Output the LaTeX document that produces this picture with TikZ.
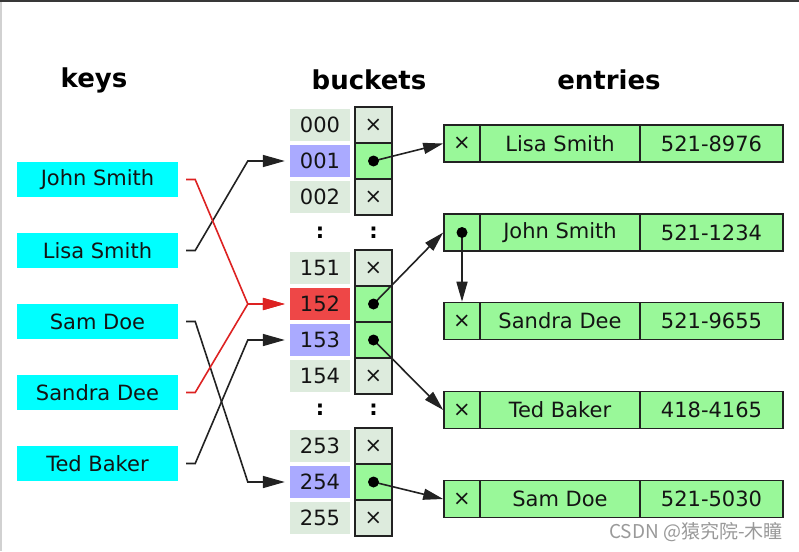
\documentclass[tikz,border=0pt]{standalone}
\usepackage{fontspec}
\setmainfont{DejaVu Sans}
\newfontfamily\cjk{Noto Sans CJK SC}
\usetikzlibrary{arrows.meta}
\definecolor{keycyan}{HTML}{00FFFF}
\definecolor{idxgreen}{HTML}{DDEBDD}
\definecolor{idxblue}{HTML}{AAAAFF}
\definecolor{idxred}{HTML}{EE4747}
\definecolor{livegreen}{HTML}{99F899}
\definecolor{edgegray}{HTML}{222222}
\definecolor{redline}{HTML}{DD2222}
\definecolor{wmgray}{HTML}{999999}
\begin{document}
\begin{tikzpicture}[x=1pt,y=-1pt,
  txt/.style={font=\fontsize{21}{25}\selectfont, text=black!92},
  title/.style={font=\fontsize{26}{30}\selectfont\bfseries},
  keybox/.style={txt, fill=keycyan, minimum width=161pt, minimum height=35pt, inner sep=0pt},
  idx/.style={txt, fill=idxgreen, minimum width=60pt, minimum height=32pt, inner sep=0pt},
  ptr/.style={txt, draw=edgegray, line width=1.6pt, fill=idxgreen, minimum width=37pt, minimum height=36pt, inner sep=0pt},
  ecell/.style={txt, draw=edgegray, line width=1.6pt, fill=livegreen, minimum height=37pt, inner sep=0pt},
  colon/.style={font=\fontsize{21}{25}\selectfont\bfseries},
  conn/.style={line width=1.6pt, draw=edgegray, -{Triangle[length=22pt,width=12pt]}, shorten >=5pt},
  redconn/.style={line width=1.6pt, draw=redline, -{Triangle[length=22pt,width=12pt]}, shorten >=5pt},
  econn/.style={line width=1.6pt, draw=edgegray, -{Triangle[length=20pt,width=11pt]}},
  dotc/.style={fill=black}
]
\useasboundingbox (0,0) rectangle (799,551);
\fill[white] (0,0) rectangle (799,551);
\fill[edgegray!90] (0,0) rectangle (799,2.2);
\fill[black!18] (0,2) rectangle (1.5,551);

% titles
\node[title] (tkeys) at (94,80) {keys};
\node[title] (tbuckets) at (369,80) {buckets};
\node[title] (tentries) at (609,80) {entries};

% keys
\node[keybox] (k1) at (97.5,179.5) {John Smith};
\node[keybox] (k2) at (97.5,250.5) {Lisa Smith};
\node[keybox] (k3) at (97.5,321.5) {Sam Doe};
\node[keybox] (k4) at (97.5,392.5) {Sandra Dee};
\node[keybox] (k5) at (97.5,463.5) {Ted Baker};

% bucket index cells
\node[idx] (i000) at (320,125) {000};
\node[idx, fill=idxblue] (i001) at (320,161) {001};
\node[idx] (i002) at (320,197) {002};
\node[idx] (i151) at (320,268) {151};
\node[idx, fill=idxred] (i152) at (320,304) {152};
\node[idx, fill=idxblue] (i153) at (320,340) {153};
\node[idx] (i154) at (320,376) {154};
\node[idx] (i253) at (320,446) {253};
\node[idx, fill=idxblue] (i254) at (320,482) {254};
\node[idx] (i255) at (320,518) {255};

% bucket pointer cells
\node[ptr] (p000) at (373.5,125) {×};
\node[ptr, fill=livegreen] (p001) at (373.5,161) {};
\node[ptr] (p002) at (373.5,197) {×};
\node[ptr] (p151) at (373.5,268) {×};
\node[ptr, fill=livegreen] (p152) at (373.5,304) {};
\node[ptr, fill=livegreen] (p153) at (373.5,340) {};
\node[ptr] (p154) at (373.5,376) {×};
\node[ptr] (p253) at (373.5,446) {×};
\node[ptr, fill=livegreen] (p254) at (373.5,482) {};
\node[ptr] (p255) at (373.5,518) {×};

% colons
\node[colon] (c1a) at (320,233) {:};
\node[colon] (c1b) at (373.5,233) {:};
\node[colon] (c2a) at (320,410) {:};
\node[colon] (c2b) at (373.5,410) {:};

% entries
\node[ecell, minimum width=36pt] (e1x) at (462,143.5) {×};
\node[ecell, minimum width=160pt] (e1n) at (560,143.5) {Lisa Smith};
\node[ecell, minimum width=143pt] (e1p) at (711.5,143.5) {521-8976};

\node[ecell, minimum width=36pt] (e2x) at (462,232.5) {};
\node[ecell, minimum width=160pt] (e2n) at (560,232.5) {John Smith};
\node[ecell, minimum width=143pt] (e2p) at (711.5,232.5) {521-1234};

\node[ecell, minimum width=36pt] (e3x) at (462,321) {×};
\node[ecell, minimum width=160pt] (e3n) at (560,321) {Sandra Dee};
\node[ecell, minimum width=143pt] (e3p) at (711.5,321) {521-9655};

\node[ecell, minimum width=36pt] (e4x) at (462,410) {×};
\node[ecell, minimum width=160pt] (e4n) at (560,410) {Ted Baker};
\node[ecell, minimum width=143pt] (e4p) at (711.5,410) {418-4165};

\node[ecell, minimum width=36pt] (e5x) at (462,499) {×};
\node[ecell, minimum width=160pt] (e5n) at (560,499) {Sam Doe};
\node[ecell, minimum width=143pt] (e5p) at (711.5,499) {521-5030};

% key -> bucket connectors
\draw[conn] ([xshift=8pt]k2.east) -- ++(9,0) -- ([xshift=-42pt]i001.west) -- (i001.west);
\draw[conn] ([xshift=8pt]k3.east) -- ++(9,0) -- ([xshift=-42pt]i254.west) -- (i254.west);
\draw[conn] ([xshift=8pt]k5.east) -- ++(9,0) -- ([xshift=-42pt]i153.west) -- (i153.west);
\draw[redconn] ([xshift=8pt]k1.east) -- ++(9,0) -- ([xshift=-42pt]i152.west) -- (i152.west);
\draw[redconn] ([xshift=8pt]k4.east) -- ++(9,0) -- ([xshift=-42pt]i152.west) -- (i152.west);

% bucket -> entry connectors
\draw[econn] (p001.center) -- (e1x.west);
\draw[econn] (p152.center) -- (e2x.west);
\draw[econn] (p153.center) -- (e4x.west);
\draw[econn] (p254.center) -- (e5x.west);
\draw[econn] (e2x.center) -- (e3x.north);

% dots
\fill[dotc] (p001.center) circle (5.5);
\fill[dotc] (p152.center) circle (5.5);
\fill[dotc] (p153.center) circle (5.5);
\fill[dotc] (p254.center) circle (5.5);
\fill[dotc] (e2x.center) circle (5.5);

% watermark
\node[anchor=east, text=wmgray, font=\cjk\fontsize{19}{22}\selectfont, inner sep=0pt] (wm) at (783,532) {CSDN @猿究院-木瞳};
\end{tikzpicture}
\end{document}
